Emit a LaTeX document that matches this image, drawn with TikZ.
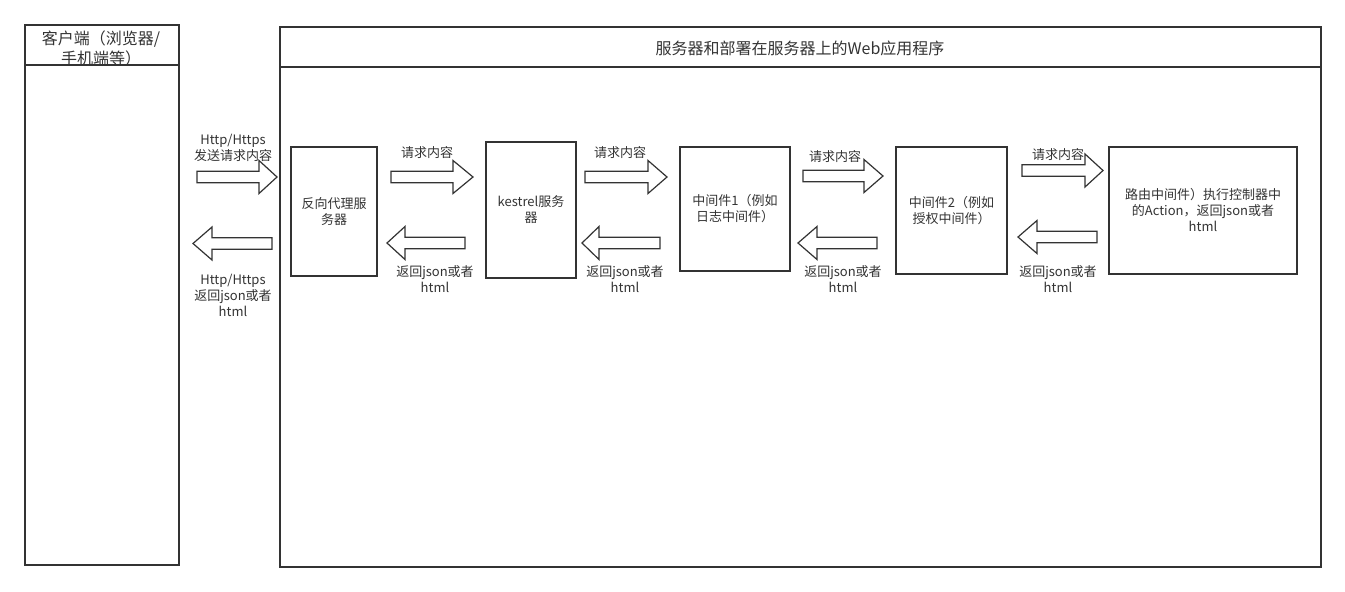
\documentclass[tikz,border=0pt]{standalone}
\usepackage{fontspec}
\setmainfont{Noto Sans CJK SC}
\definecolor{ln}{HTML}{333333}
\definecolor{tx}{HTML}{333333}
\newcommand\BlkArr[4]{% tail x, head base x, tip x, centre y
  \draw[blk] (#1,#4-5.75) -- (#2,#4-5.75) -- (#2,#4-16.5) -- (#3,#4)
    -- (#2,#4+16.5) -- (#2,#4+5.75) -- (#1,#4+5.75) -- cycle;}
\begin{document}
\begin{tikzpicture}[x=1pt,y=-1pt,
  box/.style={draw=ln, line width=1.5pt, inner sep=0pt, text=tx,
    font=\fontsize{13}{16}\selectfont, align=center},
  lbl/.style={text=tx, font=\fontsize{13}{16}\selectfont, align=center, inner sep=0pt},
  ttl/.style={text=tx, font=\fontsize{16}{20}\selectfont, align=center, inner sep=0pt},
  blk/.style={draw=ln, line width=1.2pt, fill=white, line join=miter}]
\useasboundingbox (0,0) rectangle (1345,592);

% outer containers
\node[box, minimum width=154pt, minimum height=540pt] (client) at (102,295) {};
\draw[draw=ln, line width=1.5pt] (client.west |- 0,65) -- (client.east |- 0,65);
\node[ttl] (clientT) at (101,48) {客户端（浏览器/\\手机端等）};

\node[box, minimum width=1041pt, minimum height=540pt] (server) at (800.5,297) {};
\draw[draw=ln, line width=1.5pt] (server.west |- 0,67) -- (server.east |- 0,67);
\node[ttl] (serverT) at (800,48) {服务器和部署在服务器上的Web应用程序};

% inner boxes
\node[box, minimum width=86pt, minimum height=129pt] (A) at (334,211.5) {反向代理服\\务器};
\node[box, minimum width=90pt, minimum height=136pt] (B) at (531,210) {kestrel服务\\器};
\node[box, minimum width=110pt, minimum height=124pt] (C) at (735,209) {中间件1（例如\\日志中间件）};
\node[box, minimum width=111pt, minimum height=127pt] (D) at (951.5,210.5) {中间件2（例如\\授权中间件）};
\node[box, minimum width=188pt, minimum height=127pt] (E) at (1203,210.5) {路由中间件）执行控制器中\\的Action，返回json或者\\html};

% block arrows: request (to the right)
\BlkArr{197}{259}{277}{177}
\BlkArr{391}{453}{473}{177}
\BlkArr{585}{648}{667}{177}
\BlkArr{803}{864}{883}{176}
\BlkArr{1022}{1085}{1103}{170.5}
% block arrows: response (to the left)
\BlkArr{272}{212}{193}{243.5}
\BlkArr{465}{405}{387}{243}
\BlkArr{660}{599}{582}{243}
\BlkArr{877}{817}{798}{243}
\BlkArr{1097}{1037}{1018}{237}

% labels
\node[lbl] (q0) at (233,147.5) {Http/Https\\发送请求内容};
\node[lbl] (r0) at (233,295.5) {Http/Https\\返回json或者\\html};
\node[lbl] (q1) at (427,153) {请求内容};
\node[lbl] (q2) at (620,153) {请求内容};
\node[lbl] (q3) at (835,157) {请求内容};
\node[lbl] (q4) at (1058,155) {请求内容};
\node[lbl] (r1) at (435,279.5) {返回json或者\\html};
\node[lbl] (r2) at (625,279.5) {返回json或者\\html};
\node[lbl] (r3) at (843,279.5) {返回json或者\\html};
\node[lbl] (r4) at (1058,279) {返回json或者\\html};
\end{tikzpicture}
\end{document}
